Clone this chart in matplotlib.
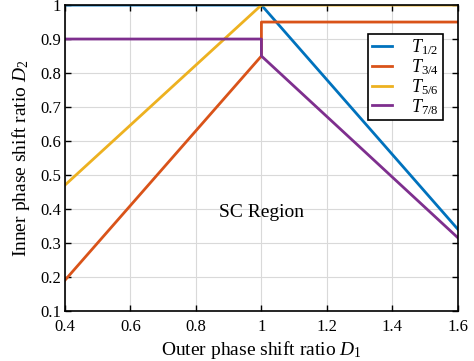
import matplotlib
matplotlib.use("Agg")
import matplotlib.pyplot as plt

plt.rcParams['font.family'] = ['Liberation Serif', 'DejaVu Serif']
plt.rcParams['mathtext.fontset'] = 'custom'
plt.rcParams['mathtext.rm'] = 'Liberation Serif'
plt.rcParams['mathtext.it'] = 'Liberation Serif:italic'

# Data (D1, D2)
t12_x = [0.4, 1.0, 1.6]
t12_y = [1.0, 1.0, 0.34]
t34_x = [0.4, 1.0, 1.0, 1.6]
t34_y = [0.19, 0.85, 0.95, 0.95]
t56_x = [0.4, 1.0, 1.6]
t56_y = [0.47, 1.0, 1.0]
t78_x = [0.4, 1.0, 1.0, 1.6]
t78_y = [0.90, 0.90, 0.85, 0.315]

labels = [r'$T_{\mathit{1/2}}$', r'$T_{\mathit{3/4}}$', r'$T_{\mathit{5/6}}$', r'$T_{\mathit{7/8}}$']
colors = ['#0072BD', '#D95319', '#EDB120', '#7E2F8E']

fig = plt.figure(figsize=(4.74, 3.61), dpi=100)
ax = fig.add_axes([0.137, 0.139, 0.829, 0.847])

for (x, y), c, l in zip([(t12_x, t12_y), (t34_x, t34_y), (t56_x, t56_y), (t78_x, t78_y)], colors, labels):
    ax.plot(x, y, color=c, lw=2, label=l)

ax.set_xlim(0.4, 1.6)
ax.set_ylim(0.1, 1.0)
ax.set_xticks([0.4, 0.6, 0.8, 1.0, 1.2, 1.4, 1.6])
ax.set_xticklabels(['0.4', '0.6', '0.8', '1', '1.2', '1.4', '1.6'])
ax.set_yticks([0.1, 0.2, 0.3, 0.4, 0.5, 0.6, 0.7, 0.8, 0.9, 1.0])
ax.set_yticklabels(['0.1', '0.2', '0.3', '0.4', '0.5', '0.6', '0.7', '0.8', '0.9', '1'])
ax.grid(True, color='#d9d9d9', lw=0.8)
ax.tick_params(direction='in', length=4, width=1, labelsize=12, top=True, right=True, pad=3)
ax.tick_params(axis='x', pad=6)
for s in ax.spines.values():
    s.set_linewidth(1.2)

ax.set_xlabel(r'Outer phase shift ratio $D_{\mathit{1}}$', fontsize=14, labelpad=3)
ax.set_ylabel(r'Inner phase shift ratio $D_2$', fontsize=14, labelpad=6)

ax.text(1.0, 0.39, 'SC Region', fontsize=14, ha='center', va='center')

leg = ax.legend(loc='upper right', bbox_to_anchor=(0.962, 0.905), fontsize=13,
                fancybox=False, framealpha=1, edgecolor='black',
                handlelength=1.1, labelspacing=0.0, borderpad=0.2, handletextpad=1.1,
                borderaxespad=0)
leg.get_frame().set_linewidth(1.2)

fig.savefig('out.png', dpi=100)
